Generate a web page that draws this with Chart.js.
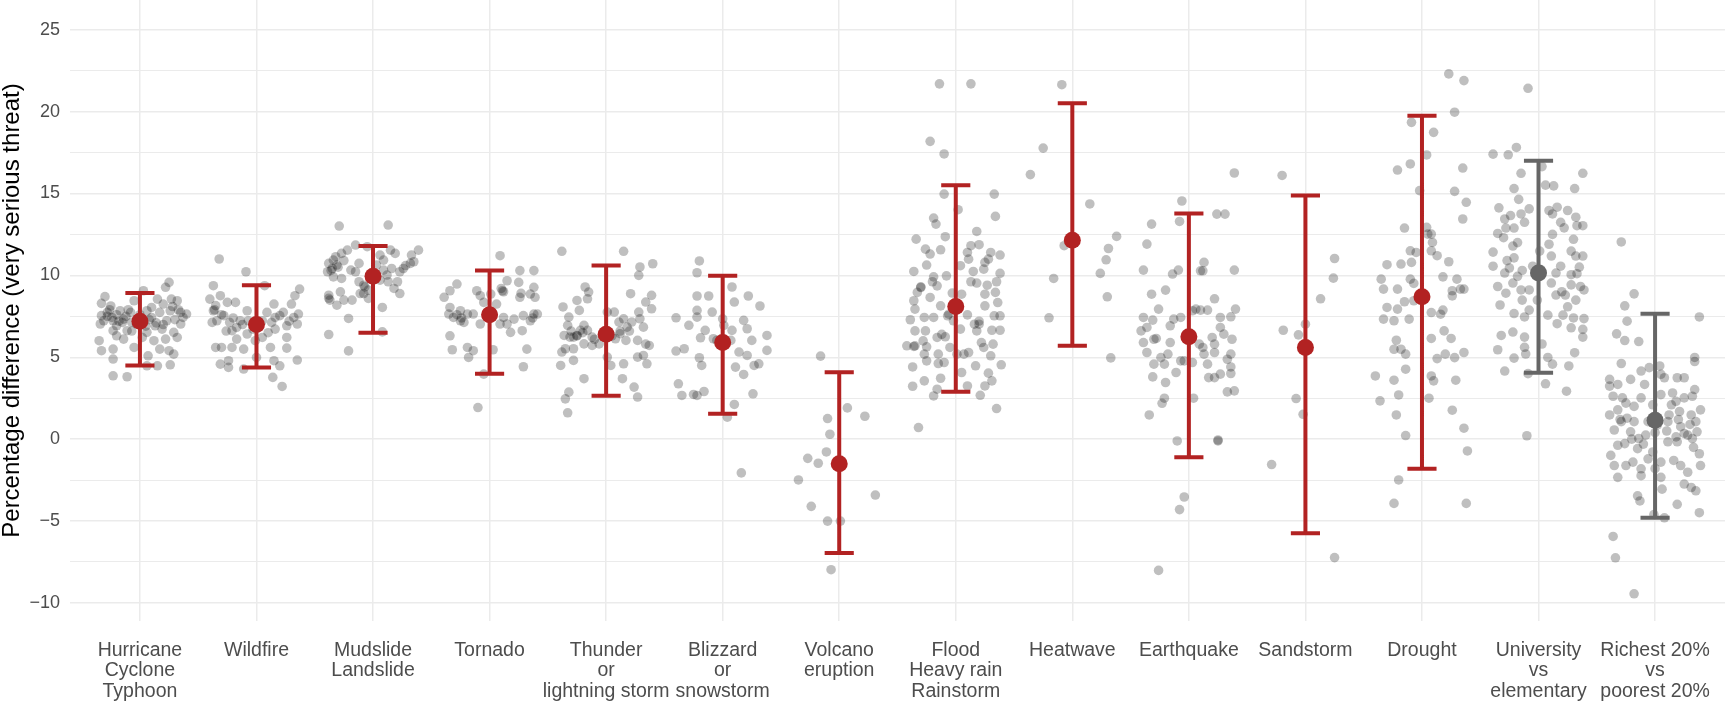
<!DOCTYPE html>
<html>
<head>
<meta charset="utf-8">
<title>Percentage difference by threat</title>
<script src="https://cdn.jsdelivr.net/npm/chart.js@4.4.1/dist/chart.umd.min.js"></script>
<style>
  html, body { margin: 0; padding: 0; background: #ffffff; }
  #wrap { width: 1725px; height: 703px; position: relative; }
</style>
</head>
<body>
<div id="wrap"><canvas id="myc" width="1725" height="703"></canvas></div>
<script>
console.log("drawing chart")

// category labels (multi line)
var categories = [
  ["Hurricane", "Cyclone", "Typhoon"],
  ["Wildfire"],
  ["Mudslide", "Landslide"],
  ["Tornado"],
  ["Thunder", "or", "lightning storm"],
  ["Blizzard", "or", "snowstorm"],
  ["Volcano", "eruption"],
  ["Flood", "Heavy rain", "Rainstorm"],
  ["Heatwave"],
  ["Earthquake"],
  ["Sandstorm"],
  ["Drought"],
  ["University", "vs", "elementary"],
  ["Richest 20%", "vs", "poorest 20%"]
];
// threat = red, demographic comparison = grey
var groups = ["threat","threat","threat","threat","threat","threat","threat",
              "threat","threat","threat","threat","threat","demo","demo"];

var means = [7.2, 7.0, 9.95, 7.6, 6.4, 5.9, -1.5, 8.1, 12.15, 6.25, 5.6, 8.7, 10.15, 1.15];
var lower = [4.5, 4.37, 6.5, 4.0, 2.65, 1.55, -6.95, 2.9, 5.7, -1.1, -5.75, -1.8, 4.05, -4.8];
var upper = [8.92, 9.4, 11.8, 10.3, 10.6, 9.98, 4.08, 15.5, 20.5, 13.77, 14.88, 19.75, 17.0, 7.65];

var yTicks = [-10, -7.5, -5, -2.5, 0, 2.5, 5, 7.5, 10, 12.5, 15, 17.5, 20, 22.5, 25];

// country level points: [jitter, value]
var hurricane = [[-0.30,8.70],[-0.33,8.29],[-0.25,8.13],[-0.17,7.84],[-0.08,7.74],[-0.33,7.54],[-0.31,7.23],[-0.23,7.23],
  [-0.14,7.33],[-0.34,7.03],[-0.20,6.92],[-0.11,6.62],[-0.23,6.62],[-0.05,8.45],[0.03,9.06],[0.10,8.04],[0.10,7.43],
  [0.13,6.92],[0.06,6.52],[0.15,8.55],[0.20,8.25],[0.25,9.57],[0.22,9.27],[0.27,8.55],[0.32,8.45],[0.35,7.74],[0.37,7.43],
  [0.40,7.64],[0.26,7.84],[0.23,7.23],[0.19,6.72],[0.29,6.52],[0.22,6.11],[0.17,5.50],[0.25,5.40],[0.29,5.19],[0.07,5.09],
  [0.06,4.48],[0.15,4.48],[0.26,4.54],[-0.23,3.87],[-0.11,3.81],[-0.35,6.01],[-0.33,5.40],[-0.23,5.50],[-0.23,4.89],
  [-0.05,5.60],[-0.14,6.11],[-0.20,6.31],[-0.28,7.74],[-0.24,7.43],[-0.03,7.03],[0.02,6.21],[0.12,6.01],[0.35,7.03],
  [0.32,6.21],[-0.07,7.13],[-0.15,7.13],[0.06,7.84],[0.17,7.74],[-0.28,7.5],[-0.20,7.6],[-0.12,7.5],[-0.18,7.2],[-0.10,7.9],
  [0.00,7.6],[0.08,7.3],[0.14,7.1],[0.30,7.3],[0.33,7.9],[0.28,8.1],[-0.26,7.9],[0.05,6.9],[-0.07,6.6],[0.20,7.0]];

var wildfire = [[-0.32,11.0],[-0.09,10.22],[-0.37,9.37],[-0.31,8.76],[-0.40,8.55],[-0.35,8.15],[-0.37,7.84],[-0.25,8.35],
  [-0.18,8.35],[-0.08,7.84],[-0.38,7.13],[-0.34,7.23],[-0.28,7.54],[-0.23,7.13],[-0.17,6.82],[-0.07,7.23],[0.05,7.23],
  [0.09,7.74],[0.15,8.25],[0.20,7.54],[0.13,7.13],[0.16,6.72],[0.26,6.92],[0.30,8.25],[0.33,8.76],[0.37,9.16],[0.36,7.64],
  [0.35,7.03],[0.32,7.43],[-0.35,5.60],[-0.30,5.60],[-0.21,5.60],[-0.11,5.50],[-0.17,6.11],[-0.08,6.42],[-0.01,6.01],
  [0.05,6.21],[0.12,5.60],[0.26,6.21],[0.26,5.56],[-0.31,4.58],[-0.24,4.79],[-0.24,4.38],[-0.11,4.28],[0.00,4.99],
  [0.15,4.79],[0.20,4.48],[0.35,4.83],[0.14,3.77],[0.22,3.22],[0.07,9.37],[0.23,7.74],[0.16,7.43],[-0.03,6.72],
  [-0.14,7.23],[-0.21,6.62],[-0.36,7.9],[-0.30,7.6],[-0.20,7.4],[-0.12,7.0],[0.02,6.9],[0.10,6.5],[0.28,7.2],[-0.26,6.6]];

var mudslide = [[-0.29,13.01],[0.13,13.07],[-0.15,11.85],[-0.05,11.75],[-0.22,11.54],[-0.27,11.34],[-0.32,11.14],
  [-0.38,10.73],[-0.39,10.22],[-0.35,10.42],[-0.34,9.91],[-0.27,9.81],[-0.19,10.32],[-0.15,10.22],[-0.12,10.73],
  [-0.12,9.61],[-0.08,9.40],[-0.04,9.10],[-0.08,8.89],[0.06,9.71],[0.09,10.32],[0.09,10.93],[0.06,11.24],[0.15,11.54],
  [0.19,11.34],[0.16,10.42],[0.13,9.61],[0.18,9.20],[0.23,8.89],[0.21,9.61],[0.26,10.42],[0.32,10.73],[0.35,10.83],
  [0.39,11.54],[0.33,11.24],[0.23,10.22],[-0.38,8.79],[-0.37,8.49],[-0.31,8.18],[-0.25,8.49],[-0.18,8.49],[-0.28,8.99],
  [-0.21,7.37],[-0.38,6.39],[-0.21,5.39],[0.08,8.04],[0.08,6.55],[-0.04,8.59],[-0.07,9.30],[-0.11,8.89],[-0.34,10.93],
  [-0.31,10.63],[0.12,10.02],[0.03,10.63],[-0.36,10.3],[-0.30,10.5],[-0.25,10.9],[-0.38,8.6],[0.28,10.6]];

var tornado = [[0.09,11.20],[-0.28,9.47],[-0.34,9.06],[-0.39,8.66],[-0.11,9.06],[-0.08,8.76],[0.01,8.86],[0.11,9.06],
  [0.15,9.67],[0.26,10.29],[0.38,10.29],[0.25,9.57],[0.38,9.27],[0.39,8.66],[0.35,8.86],[0.26,8.66],[-0.34,8.04],
  [-0.35,7.64],[-0.25,7.84],[-0.25,7.23],[-0.19,7.64],[-0.14,7.64],[-0.08,7.03],[0.03,7.64],[0.12,7.43],[0.21,7.33],
  [0.29,7.54],[0.38,7.64],[0.35,7.23],[0.28,6.62],[0.18,6.52],[0.09,7.03],[-0.34,6.31],[-0.32,5.46],[-0.19,5.60],
  [-0.14,5.40],[-0.18,4.99],[0.03,5.46],[0.32,5.50],[0.29,4.42],[-0.05,3.97],[-0.10,1.93],[-0.05,8.35],[0.06,8.25],
  [0.41,7.64],[-0.31,7.43],[0.15,7.03],[-0.22,7.13],[-0.28,7.6],[-0.24,7.4],[0.10,9.2],[0.12,9.0],[0.27,8.9],[0.37,7.4]];

var thunder = [[-0.38,11.47],[0.15,11.47],[-0.18,9.29],[-0.15,8.98],[-0.16,8.57],[-0.25,8.47],[-0.37,8.07],[-0.23,7.86],
  [-0.32,7.45],[-0.33,6.95],[-0.36,6.33],[-0.28,6.23],[-0.25,6.33],[-0.19,6.95],[-0.16,6.64],[-0.12,6.23],[-0.19,5.82],
  [-0.28,5.52],[-0.35,5.52],[-0.38,5.32],[-0.39,4.50],[-0.28,4.81],[-0.19,3.69],[-0.32,2.87],[-0.35,2.46],[-0.33,1.61],
  [0.01,7.76],[0.07,7.76],[0.11,7.15],[0.15,7.35],[0.12,6.44],[0.17,6.03],[0.22,7.15],[0.21,8.88],[0.28,10.0],[0.29,10.51],
  [0.40,10.71],[0.39,8.78],[0.34,8.37],[0.39,7.96],[0.28,7.76],[0.32,6.84],[0.37,5.72],[0.27,6.03],[0.32,5.11],[0.35,4.60],
  [0.27,5.01],[0.15,4.60],[0.04,4.50],[0.14,3.69],[0.24,3.18],[0.27,2.57],[0.01,5.01],[-0.06,5.82],[0.08,6.13],
  [-0.12,5.72],[-0.31,6.23],[-0.22,6.64],[0.18,6.84],[0.29,7.35],[-0.25,6.3],[-0.20,6.5],[-0.10,6.1],[0.05,6.3],
  [0.12,6.6],[0.34,5.8],[-0.30,6.6],[0.20,6.6]];

var blizzard = [[-0.20,10.88],[-0.22,10.16],[-0.22,8.74],[-0.12,8.74],[-0.22,7.86],[-0.22,7.45],[-0.09,7.76],[-0.29,6.95],
  [-0.40,7.41],[-0.15,6.64],[-0.19,6.19],[-0.08,6.13],[0.00,7.35],[0.10,8.37],[0.08,9.29],[0.22,8.74],[0.32,8.13],
  [0.18,7.25],[0.21,6.74],[0.08,6.64],[0.07,6.03],[0.25,6.03],[0.38,6.33],[0.14,5.32],[0.21,5.11],[0.38,5.42],[-0.40,5.38],
  [-0.33,5.52],[-0.20,4.97],[-0.18,4.50],[0.11,4.40],[0.18,3.95],[0.27,4.50],[0.31,4.60],[-0.38,3.38],[-0.35,2.67],
  [-0.25,2.73],[-0.22,2.67],[-0.16,2.91],[0.10,2.12],[0.26,2.77],[0.04,1.34],[0.16,-2.06],[-0.05,6.03],[0.01,6.95]];

var volcano = [[-0.16,5.07],[0.07,1.91],[0.22,1.40],[-0.10,1.26],[-0.08,0.30],[-0.11,-0.78],[-0.27,-1.17],[-0.18,-1.47],
  [-0.35,-2.49],[0.31,-3.41],[-0.24,-4.10],[-0.10,-5.0],[0.01,-5.0],[-0.07,-7.97]];

var flood = [[-0.14,21.69],[0.13,21.69],[-0.22,18.18],[-0.10,17.41],[-0.10,14.96],[0.02,14.01],[0.33,14.96],[-0.19,13.50],
  [-0.17,13.13],[0.34,13.60],[0.18,12.68],[-0.34,12.21],[-0.09,12.36],[-0.26,11.60],[-0.22,11.30],[-0.13,11.56],
  [0.10,11.40],[0.13,11.81],[0.20,11.87],[0.30,11.40],[0.38,11.24],[0.28,10.99],[-0.36,10.24],[-0.25,10.63],[-0.08,9.97],
  [-0.19,9.91],[0.04,10.59],[0.11,10.99],[0.15,10.24],[0.25,10.79],[0.38,10.12],[0.35,9.61],[-0.30,9.26],[-0.33,8.96],
  [-0.20,9.61],[-0.16,9.36],[-0.22,8.65],[-0.36,8.45],[-0.03,8.92],[0.13,9.61],[0.18,9.53],[0.25,8.85],[0.34,8.96],
  [0.36,8.34],[-0.39,7.29],[-0.27,7.43],[-0.35,7.94],[-0.19,7.43],[-0.13,8.14],[-0.07,7.53],[0.10,7.59],[0.16,7.02],
  [0.25,8.14],[0.33,7.53],[0.38,7.53],[-0.35,6.61],[-0.26,6.61],[-0.16,6.21],[-0.36,5.66],[-0.25,5.64],[-0.09,6.25],
  [0.04,6.72],[0.18,6.61],[0.20,7.02],[0.31,6.65],[0.38,6.65],[-0.27,5.19],[-0.15,5.19],[-0.25,4.78],[0.07,5.19],
  [0.11,5.29],[0.24,5.60],[0.32,5.80],[0.30,5.09],[0.39,4.54],[-0.37,4.41],[-0.15,4.62],[0.05,4.07],[0.17,4.48],
  [0.28,4.03],[-0.37,3.23],[-0.27,3.56],[-0.13,3.72],[-0.16,3.05],[0.10,3.25],[0.25,3.25],[0.31,3.56],[-0.19,2.64],
  [0.21,2.68],[0.35,1.87],[-0.32,0.71],[-0.05,5.60],[0.01,5.19],[-0.02,7.23],[0.05,8.85],[-0.10,4.68],[0.24,10.38],
  [-0.06,7.63],[-0.42,5.70],[-0.30,9.3],[-0.28,6.0],[0.22,5.9],[0.20,7.2],[-0.12,6.4],[0.27,9.4],[-0.35,5.7]];

var heatwave = [[-0.09,21.64],[-0.25,17.77],[-0.36,16.15],[0.15,14.36],[-0.07,11.81],[-0.16,9.81],[-0.20,7.41],
  [0.38,12.38],[0.31,11.64],[0.29,10.95],[0.24,10.12],[0.30,8.69],[0.33,4.96]];

var earthquake = [[0.39,16.25],[-0.06,14.54],[-0.32,13.13],[-0.08,13.29],[0.24,13.74],[0.31,13.74],[-0.36,11.91],
  [-0.39,10.32],[-0.09,10.32],[0.10,10.28],[0.13,10.79],[0.39,10.32],[-0.32,8.85],[-0.20,9.10],[0.22,8.57],[-0.26,7.94],
  [-0.39,7.43],[-0.31,7.27],[-0.36,6.82],[-0.39,5.90],[-0.36,5.29],[-0.30,6.10],[-0.28,6.15],[-0.13,7.33],[-0.16,6.92],
  [-0.07,7.43],[0.03,7.84],[0.10,7.88],[0.16,7.88],[0.06,7.94],[0.27,7.43],[0.36,7.47],[0.40,7.94],[-0.16,5.90],
  [-0.18,5.19],[-0.24,4.98],[-0.30,4.58],[-0.21,4.58],[-0.31,3.80],[-0.20,3.46],[-0.11,4.07],[-0.04,4.78],[0.03,4.68],
  [0.09,5.80],[0.12,5.60],[0.16,4.58],[0.22,5.80],[0.22,5.29],[0.27,3.97],[0.22,3.76],[0.17,3.76],[0.30,6.41],[0.33,4.88],
  [0.36,5.19],[0.37,6.10],[0.36,4.41],[0.36,4.01],[0.39,2.95],[0.33,2.89],[0.04,2.50],[-0.21,2.50],[-0.23,2.19],
  [-0.34,1.48],[-0.10,-0.11],[0.25,-0.11],[0.25,-0.05],[-0.04,-3.53],[-0.08,-4.30],[-0.26,-8.01],[-0.41,6.61],[-0.07,4.78],
  [0.20,6.21],[0.27,6.82],[0.13,5.19],[-0.14,10.08],[0.12,10.28]];

var sandstorm = [[-0.20,16.10],[0.25,11.03],[0.24,9.83],[0.13,8.57],[-0.19,6.65],[-0.06,6.37],[0.00,7.02],[-0.08,2.48],
  [-0.02,1.52],[-0.29,-1.55],[0.25,-7.23]];

var drought = [[0.23,22.30],[0.36,21.89],[0.28,19.96],[-0.09,19.34],[0.10,18.73],[0.04,17.35],[-0.21,16.43],[-0.10,16.80],
  [0.35,16.55],[0.28,15.13],[-0.02,15.17],[0.38,14.46],[0.35,13.44],[-0.15,12.89],[0.04,12.93],[0.08,12.52],[0.09,12.01],
  [-0.10,11.50],[-0.05,11.40],[0.13,11.20],[0.08,11.50],[-0.09,10.79],[-0.18,10.69],[-0.30,10.65],[0.23,10.83],
  [0.18,9.91],[0.30,9.77],[0.33,9.16],[0.26,9.06],[0.26,8.75],[0.36,9.16],[-0.07,9.51],[-0.35,9.77],[-0.33,9.16],
  [-0.21,9.16],[-0.15,8.39],[-0.21,7.94],[-0.30,8.04],[-0.11,7.33],[-0.33,7.33],[-0.24,7.23],[0.18,7.88],[0.16,7.63],
  [0.08,7.73],[0.19,6.61],[0.25,6.15],[0.08,6.15],[-0.22,6.04],[-0.24,5.49],[-0.18,5.49],[-0.14,5.19],[0.20,5.19],
  [0.28,4.98],[0.13,4.92],[0.36,5.29],[-0.40,3.86],[-0.24,3.60],[-0.14,4.27],[0.08,3.86],[0.10,3.56],[0.29,3.60],
  [-0.36,2.34],[-0.20,2.70],[0.06,2.50],[-0.22,1.48],[0.26,1.77],[-0.14,0.22],[0.36,0.67],[0.39,-0.72],[-0.20,-2.49],
  [-0.24,-3.92],[0.38,-3.92],[0.05,12.52],[-0.10,9.77],[0.03,8.75],[-0.07,8.45]];

var university = [[-0.09,21.42],[-0.39,17.40],[-0.26,17.36],[-0.19,17.81],[-0.15,16.23],[-0.21,15.30],[-0.17,14.64],
  [-0.34,14.12],[-0.29,13.44],[-0.24,13.65],[-0.28,12.89],[-0.35,12.56],[-0.21,12.89],[-0.12,13.24],[-0.08,14.06],
  [-0.15,13.75],[-0.22,11.79],[-0.39,11.42],[-0.21,11.07],[-0.39,10.56],[-0.29,10.14],[-0.35,9.32],[-0.28,8.91],
  [-0.22,9.53],[-0.15,9.11],[-0.14,8.49],[-0.21,7.67],[-0.12,7.46],[-0.08,7.88],[-0.33,8.19],[-0.32,6.33],[-0.22,6.54],
  [-0.12,6.23],[-0.35,5.46],[-0.21,4.95],[-0.12,5.61],[-0.11,5.20],[-0.29,4.16],[-0.09,4.00],[0.06,3.38],[0.24,2.93],
  [0.09,11.90],[0.11,11.18],[0.01,11.48],[0.16,14.16],[0.12,13.75],[0.09,13.96],[0.19,13.24],[0.25,13.96],[0.32,13.55],
  [0.33,13.03],[0.38,13.03],[0.28,11.48],[0.32,11.18],[0.38,11.18],[0.15,10.14],[0.19,10.56],[0.28,10.04],[0.33,10.10],
  [0.39,9.11],[0.15,8.80],[0.23,8.80],[0.32,8.49],[0.36,9.32],[0.28,9.42],[0.08,7.57],[0.21,7.57],[0.16,7.05],[0.28,6.80],
  [0.38,6.70],[0.39,7.36],[0.38,6.23],[0.31,5.28],[0.26,4.47],[0.12,4.58],[0.03,5.81],[0.08,4.99],[0.03,16.64],
  [0.06,15.51],[0.13,15.46],[0.31,15.30],[0.38,16.23],[-0.05,10.56],[-0.08,9.11],[0.02,10.35],[-0.10,0.21],[0.25,8.08],
  [0.11,9.53],[-0.01,8.49],[-0.18,9.94],[-0.25,10.45],[-0.30,12.3],[-0.18,12.0],[0.22,12.9],[0.30,12.2],[-0.27,10.9],
  [0.20,9.0],[0.35,10.5],[-0.14,10.3],[0.12,12.5],[0.30,7.4]];

var richest = [[-0.29,12.04],[-0.18,8.87],[-0.26,8.14],[-0.24,7.20],[-0.33,6.43],[-0.26,6.02],[-0.14,5.96],[-0.29,4.62],
  [-0.21,3.65],[-0.39,3.65],[-0.39,3.24],[-0.32,3.34],[-0.36,2.62],[-0.28,2.52],[-0.18,2.00],[-0.12,2.52],[-0.05,4.37],
  [0.04,4.47],[0.05,3.96],[0.08,3.75],[-0.12,4.16],[0.19,3.75],[0.25,3.75],[0.15,2.82],[0.18,2.31],[0.25,2.52],[0.34,4.99],
  [0.34,4.74],[0.38,7.46],[0.34,3.03],[0.32,2.62],[0.39,1.79],[0.31,1.48],[0.35,1.07],[0.36,0.45],[0.32,0.04],[0.25,0.35],
  [0.22,0.76],[0.21,1.69],[0.12,1.48],[0.11,1.07],[0.18,0.14],[0.11,-0.16],[0.02,0.87],[-0.06,1.07],[-0.08,0.25],
  [-0.14,0.04],[-0.15,-0.58],[-0.21,0.45],[-0.24,1.28],[-0.29,1.07],[-0.35,0.56],[-0.32,-0.37],[-0.26,-0.27],[-0.38,-0.99],
  [-0.35,-1.61],[-0.32,-2.33],[-0.25,-1.61],[-0.19,-1.40],[-0.12,-1.81],[-0.12,-2.23],[-0.06,-1.20],[-0.02,-0.78],
  [0.05,-1.40],[0.05,-2.33],[0.06,-3.05],[0.16,-1.30],[0.22,-1.61],[0.28,-2.02],[0.25,-2.74],[0.31,-2.95],[0.35,-3.15],
  [0.38,-0.89],[0.39,-1.61],[0.19,-3.98],[0.38,-4.49],[-0.15,-3.46],[-0.13,-3.77],[-0.01,-4.60],[0.08,-4.80],[-0.36,-5.94],
  [-0.34,-7.24],[-0.18,-9.44],[-0.32,1.79],[-0.39,1.48],[0.14,2.10],[-0.02,2.10],[-0.18,1.07],[-0.09,3.34],[0.05,2.72],
  [0.19,-0.16],[0.28,0.25],[-0.30,1.2],[-0.20,0.0],[0.00,0.4],[0.10,0.5],[0.30,0.9],[-0.10,-0.3],[0.20,1.2],[-0.25,2.2],
  [0.33,-0.5],[0.00,-1.8]];

var pointsByCat = [hurricane, wildfire, mudslide, tornado, thunder, blizzard, volcano,
                   flood, heatwave, earthquake, sandstorm, drought, university, richest];

// colours
var RED = "#B22222";
var GREY = "#666666";
var GRID = "#EBEBEB";
var capHalf = 0.125;   // half width of error bar caps, in category units

// build jitter points
var jitterData = [];
for (var i = 0; i < pointsByCat.length; i++) {
    pointsByCat[i].forEach(function (p) {
        jitterData.push({ x: i + p[0], y: p[1] });
    });
}

// error bars, one line dataset per colour, segments split by null
function barData(group) {
    var out = [];
    for (var i = 0; i < means.length; i++) {
        if (groups[i] !== group) continue;
        out.push({ x: i, y: lower[i] }, { x: i, y: upper[i] }, { x: i, y: null });
        out.push({ x: i - capHalf, y: upper[i] }, { x: i + capHalf, y: upper[i] }, { x: i, y: null });
        out.push({ x: i - capHalf, y: lower[i] }, { x: i + capHalf, y: lower[i] }, { x: i, y: null });
    }
    return out;
}

var meanData = means.map(function (m, i) { return { x: i, y: m }; });
var meanColors = groups.map(function (g) { return g === "threat" ? RED : GREY; });

var fontFamily = "'Liberation Sans', Arial, Helvetica, sans-serif";

const config = {
    type: 'scatter',
    data: {
        datasets: [
            {
                label: 'countries',
                data: jitterData,
                backgroundColor: 'rgba(0,0,0,0.25)',
                borderWidth: 0,
                pointRadius: 4.8,
                pointHoverRadius: 4.8,
                order: 3
            },
            {
                label: 'interval threat',
                data: barData("threat"),
                showLine: true,
                spanGaps: false,
                borderColor: RED,
                borderWidth: 4,
                borderCapStyle: 'butt',
                pointRadius: 0,
                pointHoverRadius: 0,
                order: 2
            },
            {
                label: 'interval demo',
                data: barData("demo"),
                showLine: true,
                spanGaps: false,
                borderColor: GREY,
                borderWidth: 4,
                borderCapStyle: 'butt',
                pointRadius: 0,
                pointHoverRadius: 0,
                order: 2
            },
            {
                label: 'mean',
                data: meanData,
                backgroundColor: meanColors,
                borderWidth: 0,
                pointRadius: 8.5,
                pointHoverRadius: 8.5,
                order: 1
            }
        ]
    },
    options: {
        responsive: false,
        animation: false,
        events: [],
        layout: { padding: 0, autoPadding: false },
        plugins: {
            legend: { display: false },
            tooltip: { enabled: false }
        },
        scales: {
            x: {
                type: 'linear',
                min: -0.6,
                max: 13.6,
                border: { display: false },
                grid: { color: GRID, lineWidth: 1.5, drawTicks: false },
                afterBuildTicks: function (scale) {
                    scale.ticks = categories.map(function (c, i) { return { value: i }; });
                },
                afterFit: function (scale) {
                    scale.height = 82;
                    scale.paddingLeft = 0;
                    scale.paddingRight = 0;
                },
                ticks: {
                    autoSkip: false,
                    maxRotation: 0,
                    padding: 19,
                    color: '#4D4D4D',
                    font: { family: fontFamily, size: 19.5, lineHeight: 1.05 },
                    callback: function (value) { return categories[value]; }
                }
            },
            y: {
                type: 'linear',
                min: -11.1,
                max: 26.81,
                border: { display: false },
                grid: {
                    color: GRID,
                    drawTicks: false,
                    lineWidth: function (ctx) {
                        return (ctx.tick && ctx.tick.value % 5 === 0) ? 1.5 : 1.1;
                    }
                },
                afterBuildTicks: function (scale) {
                    scale.ticks = yTicks.map(function (v) { return { value: v }; });
                },
                afterFit: function (scale) {
                    scale.width = 70;
                    scale.paddingTop = 0;
                    scale.paddingBottom = 0;
                },
                title: {
                    display: true,
                    text: 'Percentage difference (very serious threat)',
                    color: '#000000',
                    font: { family: fontFamily, size: 24, lineHeight: 1 },
                    padding: { top: 0, bottom: 0 }
                },
                ticks: {
                    padding: 10,
                    color: '#4D4D4D',
                    font: { family: fontFamily, size: 18 },
                    callback: function (value) {
                        if (value % 5 !== 0) return '';
                        return value < 0 ? '\u2212' + Math.abs(value) : String(value);
                    }
                }
            }
        }
    }
};

const ctx = document.getElementById('myc').getContext("2d");
var myChart = new Chart(ctx, config);
console.log("chart done")
</script>
</body>
</html>
